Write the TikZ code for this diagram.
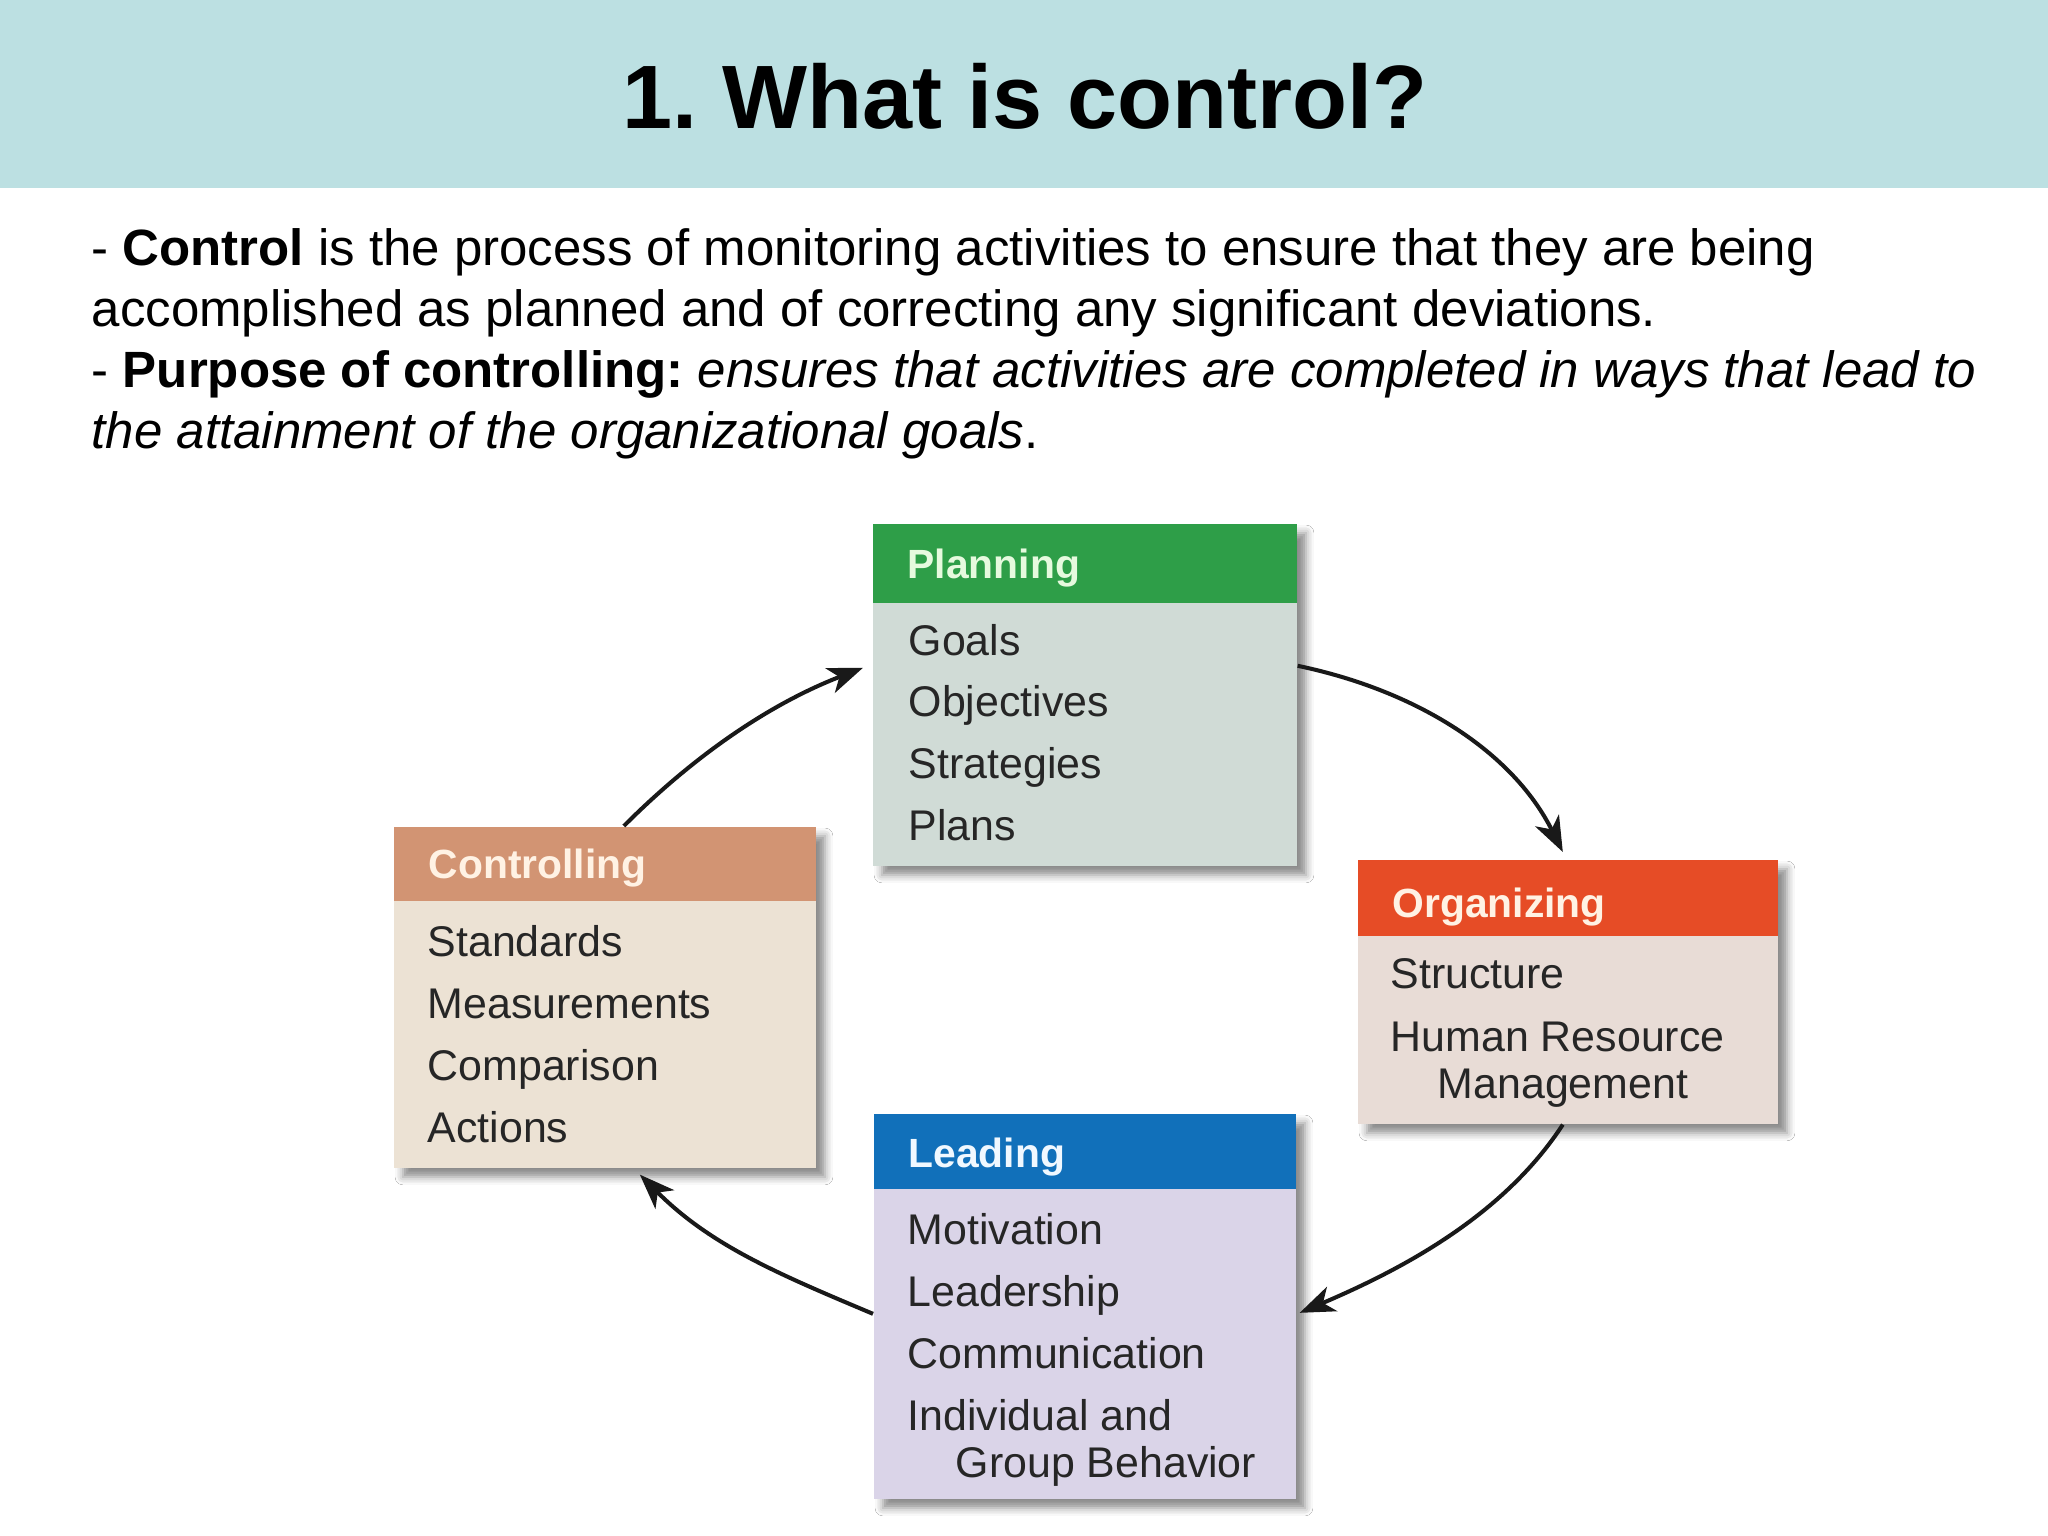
\documentclass[tikz,border=0pt]{standalone}
\usepackage{fontspec}
\setmainfont{Liberation Sans}
\usetikzlibrary{arrows.meta,shadows.blur}

\definecolor{bandbg}{RGB}{188,224,226}
\definecolor{planhd}{RGB}{46,158,72}
\definecolor{planbg}{RGB}{208,219,214}
\definecolor{ctrlhd}{RGB}{210,148,115}
\definecolor{ctrlbg}{RGB}{236,226,212}
\definecolor{orghd}{RGB}{230,76,38}
\definecolor{orgbg}{RGB}{232,220,214}
\definecolor{leadhd}{RGB}{17,112,186}
\definecolor{leadbg}{RGB}{218,212,232}
\definecolor{planfg}{RGB}{230,250,222}
\definecolor{warmfg}{RGB}{255,242,228}
\definecolor{leadfg}{RGB}{240,248,255}

\begin{document}
\frenchspacing
\begin{tikzpicture}[
    x=0.01cm, y=-0.01cm,
    line/.style={anchor=base west, inner sep=0pt, font=\fontsize{14.5pt}{17.4pt}\selectfont},
    card/.style={anchor=north west, inner sep=0pt,
      blur shadow={shadow xshift=2.6pt, shadow yshift=-2.6pt, shadow blur radius=2.2pt, shadow opacity=45}},
    head/.style={anchor=north west, inner sep=0pt},
    htext/.style={anchor=base west, inner sep=0pt, font=\fontsize{11.6pt}{14pt}\selectfont\bfseries},
    item/.style={anchor=base west, inner sep=0pt, text=black!85, font=\fontsize{12.2pt}{14pt}\selectfont},
    cyc/.style={-{Stealth[length=10pt, width=7.5pt, inset=2.8pt]}, line width=1.15pt, black!90},
  ]
  \fill[white] (0,0) rectangle (2048,1536);
  \useasboundingbox (0,0) rectangle (2048,1536);

  % Title band and text.
  \fill[bandbg] (0,0) rectangle (2048,188);
  \node[anchor=base, inner sep=0pt, font=\fontsize{25.6pt}{30pt}\selectfont\bfseries] (title) at (1025,128) {1. What is control?};
  \node[line] (l1) at (91,265) {- \textbf{Control} is the process of monitoring activities to ensure that they are being};
  \node[line] (l2) at (91,326) {accomplished as planned and of correcting any significant deviations.};
  \node[line] (l3) at (91,387) {- \textbf{Purpose of controlling:} \textit{ensures that activities are completed in ways that lead to}};
  \node[line] (l4) at (91,448) {\textit{the attainment of the organizational goals}.};

  % The four boxes.
  \foreach \n/\x/\y/\w/\h/\hh/\hc/\bc/\tc/\tb/\t in {
      plan/872/523/4.24cm/3.42cm/0.79cm/planhd/planbg/planfg/55/Planning,
      ctrl/393/826/4.22cm/3.41cm/0.74cm/ctrlhd/ctrlbg/warmfg/52/Controlling,
      org/1357/859/4.20cm/2.64cm/0.76cm/orghd/orgbg/warmfg/58/Organizing,
      lead/873/1113/4.22cm/3.85cm/0.75cm/leadhd/leadbg/leadfg/54/Leading} {
    \node[card, fill=\bc, minimum width=\w, minimum height=\h] (\n) at (\x,\y) {};
    \node[head, fill=\hc, minimum width=\w, minimum height=\hh] (\n-hd) at (\n.north west) {};
    \node[htext, text=\tc] (\n-title) at (\x+35,\y+\tb) {\t};
  }

  \foreach \t [count=\i from 0] in {Goals, Objectives, Strategies, Plans}
    \node[item] (plan-\i) at (908,{655+61.7*\i}) {\t};
  \foreach \t [count=\i from 0] in {Standards, Measurements, Comparison, Actions}
    \node[item] (ctrl-\i) at (427,{956+62*\i}) {\t};
  \node[item] (org-0) at (1390,988) {Structure};
  \node[item] (org-1) at (1390,1051) {Human Resource};
  \node[item] (org-2) at (1437,1098) {Management};
  \foreach \t [count=\i from 0] in {Motivation, Leadership, Communication, Individual and}
    \node[item] (lead-\i) at (907,{1244+62*\i}) {\t};
  \node[item] (lead-4) at (955,1477) {Group Behavior};

  % Cycle arrows.
  \draw[cyc] ([xshift=0.19cm]ctrl.north) .. controls +(71,-71) and +(-93,36) .. ([xshift=-0.09cm,yshift=0.27cm]plan.west);
  \draw[cyc] ([yshift=0.29cm]plan.east) .. controls +(120,25) and +(-50,-100) .. ([xshift=-0.05cm,yshift=0.07cm]org.north);
  \draw[cyc] ([xshift=-0.05cm]org.south) .. controls +(-60,92) and +(101,-43) .. ([xshift=0.03cm,yshift=-0.065cm]lead.east);
  \draw[cyc] ([yshift=-0.075cm]lead.west) .. controls +(-95,-40) and +(71,71) .. ([xshift=0.35cm,yshift=-0.06cm]ctrl.south);
\end{tikzpicture}
\end{document}
